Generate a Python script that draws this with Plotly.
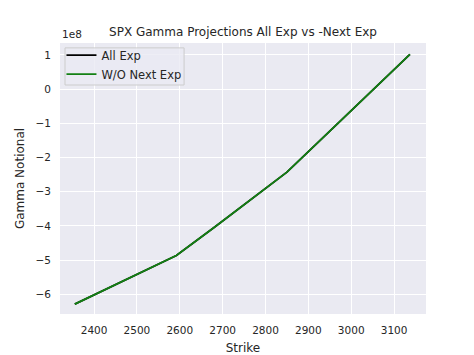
import plotly.graph_objects as go

# Data (y in units of 1e8 gamma notional)
strikes = [2355, 2450, 2520, 2592, 2680, 2770, 2850, 2950, 3050, 3137]
all_exp = [-6.29, -5.72, -5.30, -4.87, -4.05, -3.20, -2.43, -1.23, -0.03, 1.02]
wo_next_exp = [-6.29, -5.72, -5.30, -4.87, -4.05, -3.20, -2.43, -1.23, -0.03, 1.02]

x_ticks = [2400, 2500, 2600, 2700, 2800, 2900, 3000, 3100]
y_ticks = [-6, -5, -4, -3, -2, -1, 0, 1]
y_ticktext = ["\u22126", "\u22125", "\u22124", "\u22123", "\u22122", "\u22121", "0", "1"]

font_family = "DejaVu Sans"
text_color = "#262626"

fig = go.Figure()
fig.add_trace(go.Scatter(x=strikes, y=all_exp, mode="lines", name="All Exp",
                         line=dict(color="black", width=1.8)))
fig.add_trace(go.Scatter(x=strikes, y=wo_next_exp, mode="lines", name="W/O Next Exp",
                         line=dict(color="#138013", width=1.8)))

fig.update_layout(
    width=474, height=355,
    margin=dict(l=60, r=48, t=43, b=41),
    paper_bgcolor="white",
    plot_bgcolor="#EAEAF2",
    font=dict(family=font_family, color=text_color, size=11),
    title=dict(text="SPX Gamma Projections All Exp vs -Next Exp",
               x=(60 + 426) / 2 / 474, xanchor="center",
               y=1 - 32 / 355, yanchor="middle",
               font=dict(size=12, color=text_color, family=font_family)),
    showlegend=True,
    legend=dict(x=0.004, y=1.009, xanchor="left", yanchor="top",
                bgcolor="rgba(0,0,0,0)", borderwidth=0,
                font=dict(size=11.5, color=text_color, family=font_family),
                tracegroupgap=0, itemwidth=30),
    xaxis=dict(range=[2320.5, 3174.5], tickvals=x_ticks,
               ticktext=[str(v) for v in x_ticks],
               showgrid=True, gridcolor="white", gridwidth=1.2,
               zeroline=False, showline=False, ticks="",
               ticklabelstandoff=8, automargin=False,
               tickfont=dict(size=10.5, color=text_color),
               title=dict(text="Strike", font=dict(size=12, color=text_color), standoff=9)),
    yaxis=dict(range=[-6.58, 1.35], tickvals=y_ticks, ticktext=y_ticktext,
               showgrid=True, gridcolor="white", gridwidth=1.2,
               zeroline=False, showline=False, ticks="",
               ticklabelstandoff=8, automargin=False,
               tickfont=dict(size=10.5, color=text_color),
               title=dict(text="Gamma Notional", font=dict(size=12, color=text_color), standoff=8)),
)

# legend frame
fig.add_shape(type="rect", xref="paper", yref="paper",
              x0=0.0137, x1=0.339, y0=0.845, y1=0.982,
              fillcolor="rgba(234,234,242,0.8)", line=dict(color="#cccccc", width=1),
              layer="above")

fig.add_annotation(text="1e8", xref="paper", yref="paper", x=0, y=1.0,
                   xanchor="left", yanchor="bottom", yshift=1, showarrow=False,
                   font=dict(size=10.5, color=text_color, family=font_family))

fig.write_html("out.html")
